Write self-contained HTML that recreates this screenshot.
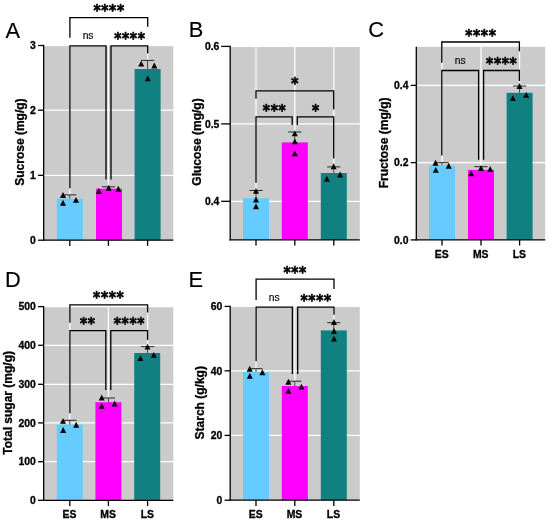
<!DOCTYPE html>
<html><head><meta charset="utf-8"><title>Figure</title>
<style>
html,body{margin:0;padding:0;background:#fff;}
body{width:550px;height:522px;overflow:hidden;}
svg{display:block;font-family:"Liberation Sans",sans-serif;}
</style></head><body>
<svg width="550" height="522" viewBox="0 0 550 522">
<rect width="550" height="522" fill="#fff"/>
<rect x="43.65" y="46.15" width="129.65" height="194.05" fill="#cbcbcb"/>
<line x1="43.65" y1="110.20" x2="173.30" y2="110.20" stroke="#fff" stroke-width="1.2"/>
<line x1="43.65" y1="175.30" x2="173.30" y2="175.30" stroke="#fff" stroke-width="1.2"/>
<line x1="69.80" y1="46.15" x2="69.80" y2="240.20" stroke="#fff" stroke-width="1.25"/>
<line x1="108.40" y1="46.15" x2="108.40" y2="240.20" stroke="#fff" stroke-width="1.25"/>
<line x1="147.60" y1="46.15" x2="147.60" y2="240.20" stroke="#fff" stroke-width="1.25"/>
<rect x="56.80" y="198.70" width="26.00" height="41.50" fill="#66ccff"/>
<rect x="96.00" y="188.70" width="26.00" height="51.50" fill="#ff00ff"/>
<rect x="134.60" y="69.00" width="26.00" height="171.20" fill="#108080"/>
<line x1="69.80" y1="194.90" x2="69.80" y2="198.70" stroke="#000" stroke-width="0.8"/>
<line x1="63.20" y1="194.90" x2="76.40" y2="194.90" stroke="#000" stroke-width="0.8"/>
<line x1="108.40" y1="186.80" x2="108.40" y2="188.70" stroke="#000" stroke-width="0.8"/>
<line x1="101.80" y1="186.80" x2="115.00" y2="186.80" stroke="#000" stroke-width="0.8"/>
<line x1="147.60" y1="60.40" x2="147.60" y2="69.00" stroke="#000" stroke-width="0.8"/>
<line x1="141.00" y1="60.40" x2="154.20" y2="60.40" stroke="#000" stroke-width="0.8"/>
<polyline points="69.90,37.70 69.90,17.60 147.70,17.60 147.70,26.80" fill="none" stroke="#000" stroke-width="1.3"/>
<polyline points="69.90,188.30 69.90,45.80 106.00,45.80 106.00,179.60" fill="none" stroke="#000" stroke-width="1.3"/>
<polyline points="111.00,179.60 111.00,45.80 147.70,45.80 147.70,53.50" fill="none" stroke="#000" stroke-width="1.3"/>
<polygon points="63.00,192.05 66.00,197.95 60.00,197.95"/>
<polygon points="63.00,199.85 66.00,205.75 60.00,205.75"/>
<polygon points="76.00,196.95 79.00,202.85 73.00,202.85"/>
<polygon points="98.90,188.05 101.90,193.95 95.90,193.95"/>
<polygon points="108.70,184.75 111.70,190.65 105.70,190.65"/>
<polygon points="118.30,185.75 121.30,191.65 115.30,191.65"/>
<polygon points="141.20,60.65 144.20,66.55 138.20,66.55"/>
<polygon points="154.30,62.55 157.30,68.45 151.30,68.45"/>
<polygon points="147.80,75.45 150.80,81.35 144.80,81.35"/>
<line x1="43.65" y1="44.85" x2="43.65" y2="240.85" stroke="#000" stroke-width="1.3"/>
<line x1="43.00" y1="240.20" x2="173.30" y2="240.20" stroke="#000" stroke-width="1.3"/>
<line x1="38.05" y1="45.50" x2="43.65" y2="45.50" stroke="#000" stroke-width="1.3"/>
<text x="35.85" y="49.25" font-size="10.4" text-anchor="end" font-weight="bold" stroke="#000" stroke-width="0.3">3</text>
<line x1="38.05" y1="110.20" x2="43.65" y2="110.20" stroke="#000" stroke-width="1.3"/>
<text x="35.85" y="113.95" font-size="10.4" text-anchor="end" font-weight="bold" stroke="#000" stroke-width="0.3">2</text>
<line x1="38.05" y1="175.30" x2="43.65" y2="175.30" stroke="#000" stroke-width="1.3"/>
<text x="35.85" y="179.05" font-size="10.4" text-anchor="end" font-weight="bold" stroke="#000" stroke-width="0.3">1</text>
<line x1="38.05" y1="240.20" x2="43.65" y2="240.20" stroke="#000" stroke-width="1.3"/>
<text x="35.85" y="243.95" font-size="10.4" text-anchor="end" font-weight="bold" stroke="#000" stroke-width="0.3">0</text>
<line x1="69.80" y1="240.20" x2="69.80" y2="245.90" stroke="#000" stroke-width="1.3"/>
<line x1="108.40" y1="240.20" x2="108.40" y2="245.90" stroke="#000" stroke-width="1.3"/>
<line x1="147.60" y1="240.20" x2="147.60" y2="245.90" stroke="#000" stroke-width="1.3"/>
<text x="24.00" y="185.80" font-size="12" text-anchor="start" font-weight="bold" stroke="#000" stroke-width="0.3" transform="rotate(-90 24.00 185.80)">Sucrose (mg/g)</text>
<text x="5.40" y="37.50" font-size="21.8" text-anchor="start" stroke="#000" stroke-width="0.15">A</text>
<text transform="translate(109.05 16.15) scale(0.9 1)" font-family="DejaVu Sans, sans-serif" font-weight="bold" font-size="15.2" text-anchor="middle" letter-spacing="0.77" stroke="#000" stroke-width="0.7">****</text>
<text x="88.10" y="39.10" font-size="10.3" text-anchor="middle" stroke="#000" stroke-width="0.15">ns</text>
<text transform="translate(129.85 44.05) scale(0.9 1)" font-family="DejaVu Sans, sans-serif" font-weight="bold" font-size="15.2" text-anchor="middle" letter-spacing="0.77" stroke="#000" stroke-width="0.7">****</text>
<rect x="230.20" y="47.05" width="129.60" height="192.75" fill="#cbcbcb"/>
<line x1="230.20" y1="123.90" x2="359.80" y2="123.90" stroke="#fff" stroke-width="1.2"/>
<line x1="230.20" y1="201.30" x2="359.80" y2="201.30" stroke="#fff" stroke-width="1.2"/>
<line x1="256.00" y1="47.05" x2="256.00" y2="239.80" stroke="#fff" stroke-width="1.25"/>
<line x1="294.80" y1="47.05" x2="294.80" y2="239.80" stroke="#fff" stroke-width="1.25"/>
<line x1="333.80" y1="47.05" x2="333.80" y2="239.80" stroke="#fff" stroke-width="1.25"/>
<rect x="243.00" y="198.10" width="26.00" height="41.70" fill="#66ccff"/>
<rect x="281.80" y="142.40" width="26.00" height="97.40" fill="#ff00ff"/>
<rect x="320.80" y="173.00" width="26.00" height="66.80" fill="#108080"/>
<line x1="256.00" y1="190.50" x2="256.00" y2="198.10" stroke="#000" stroke-width="0.8"/>
<line x1="249.40" y1="190.50" x2="262.60" y2="190.50" stroke="#000" stroke-width="0.8"/>
<line x1="294.80" y1="132.00" x2="294.80" y2="142.40" stroke="#000" stroke-width="0.8"/>
<line x1="288.20" y1="132.00" x2="301.40" y2="132.00" stroke="#000" stroke-width="0.8"/>
<line x1="333.80" y1="166.90" x2="333.80" y2="173.00" stroke="#000" stroke-width="0.8"/>
<line x1="327.20" y1="166.90" x2="340.40" y2="166.90" stroke="#000" stroke-width="0.8"/>
<polyline points="256.00,98.70 256.00,90.85 333.70,90.85 333.70,109.50" fill="none" stroke="#000" stroke-width="1.3"/>
<polyline points="256.00,182.80 256.00,116.80 292.20,116.80 292.20,125.00" fill="none" stroke="#000" stroke-width="1.3"/>
<polyline points="297.30,125.00 297.30,116.80 333.70,116.80 333.70,158.60" fill="none" stroke="#000" stroke-width="1.3"/>
<polygon points="256.00,187.95 259.00,193.85 253.00,193.85"/>
<polygon points="256.00,196.55 259.00,202.45 253.00,202.45"/>
<polygon points="256.00,203.25 259.00,209.15 253.00,209.15"/>
<polygon points="294.80,130.45 297.80,136.35 291.80,136.35"/>
<polygon points="294.80,138.45 297.80,144.35 291.80,144.35"/>
<polygon points="294.80,150.45 297.80,156.35 291.80,156.35"/>
<polygon points="333.60,163.35 336.60,169.25 330.60,169.25"/>
<polygon points="340.10,171.55 343.10,177.45 337.10,177.45"/>
<polygon points="326.90,175.75 329.90,181.65 323.90,181.65"/>
<line x1="230.20" y1="45.75" x2="230.20" y2="240.45" stroke="#000" stroke-width="1.3"/>
<line x1="229.55" y1="239.80" x2="359.80" y2="239.80" stroke="#000" stroke-width="1.3"/>
<line x1="221.20" y1="46.40" x2="230.20" y2="46.40" stroke="#000" stroke-width="1.3"/>
<text x="219.40" y="50.15" font-size="10.4" text-anchor="end" font-weight="bold" stroke="#000" stroke-width="0.3">0.6</text>
<line x1="221.20" y1="123.90" x2="230.20" y2="123.90" stroke="#000" stroke-width="1.3"/>
<text x="219.40" y="127.65" font-size="10.4" text-anchor="end" font-weight="bold" stroke="#000" stroke-width="0.3">0.5</text>
<line x1="221.20" y1="201.30" x2="230.20" y2="201.30" stroke="#000" stroke-width="1.3"/>
<text x="219.40" y="205.05" font-size="10.4" text-anchor="end" font-weight="bold" stroke="#000" stroke-width="0.3">0.4</text>
<line x1="256.00" y1="239.80" x2="256.00" y2="245.50" stroke="#000" stroke-width="1.3"/>
<line x1="294.80" y1="239.80" x2="294.80" y2="245.50" stroke="#000" stroke-width="1.3"/>
<line x1="333.80" y1="239.80" x2="333.80" y2="245.50" stroke="#000" stroke-width="1.3"/>
<text x="201.00" y="185.70" font-size="12" text-anchor="start" font-weight="bold" stroke="#000" stroke-width="0.3" transform="rotate(-90 201.00 185.70)">Glucose (mg/g)</text>
<text x="188.70" y="37.20" font-size="21.8" text-anchor="start" stroke="#000" stroke-width="0.15">B</text>
<text transform="translate(295.15 89.45) scale(0.9 1)" font-family="DejaVu Sans, sans-serif" font-weight="bold" font-size="15.2" text-anchor="middle" letter-spacing="0.77" stroke="#000" stroke-width="0.7">*</text>
<text transform="translate(274.55 115.85) scale(0.9 1)" font-family="DejaVu Sans, sans-serif" font-weight="bold" font-size="15.2" text-anchor="middle" letter-spacing="0.77" stroke="#000" stroke-width="0.7">***</text>
<text transform="translate(315.85 115.95) scale(0.9 1)" font-family="DejaVu Sans, sans-serif" font-weight="bold" font-size="15.2" text-anchor="middle" letter-spacing="0.77" stroke="#000" stroke-width="0.7">*</text>
<rect x="416.30" y="46.80" width="128.90" height="193.10" fill="#cbcbcb"/>
<line x1="416.30" y1="85.40" x2="545.20" y2="85.40" stroke="#fff" stroke-width="1.2"/>
<line x1="416.30" y1="162.60" x2="545.20" y2="162.60" stroke="#fff" stroke-width="1.2"/>
<line x1="442.00" y1="46.80" x2="442.00" y2="239.90" stroke="#fff" stroke-width="1.25"/>
<line x1="481.00" y1="46.80" x2="481.00" y2="239.90" stroke="#fff" stroke-width="1.25"/>
<line x1="519.60" y1="46.80" x2="519.60" y2="239.90" stroke="#fff" stroke-width="1.25"/>
<rect x="429.00" y="165.50" width="26.00" height="74.40" fill="#66ccff"/>
<rect x="468.00" y="169.90" width="26.00" height="70.00" fill="#ff00ff"/>
<rect x="506.60" y="92.80" width="26.00" height="147.10" fill="#108080"/>
<line x1="442.00" y1="162.60" x2="442.00" y2="165.50" stroke="#000" stroke-width="0.8"/>
<line x1="435.40" y1="162.60" x2="448.60" y2="162.60" stroke="#000" stroke-width="0.8"/>
<line x1="481.00" y1="166.70" x2="481.00" y2="169.90" stroke="#000" stroke-width="0.8"/>
<line x1="474.40" y1="166.70" x2="487.60" y2="166.70" stroke="#000" stroke-width="0.8"/>
<line x1="519.60" y1="86.00" x2="519.60" y2="92.80" stroke="#000" stroke-width="0.8"/>
<line x1="513.00" y1="86.00" x2="526.20" y2="86.00" stroke="#000" stroke-width="0.8"/>
<polyline points="441.80,62.70 441.80,42.00 519.40,42.00 519.40,51.20" fill="none" stroke="#000" stroke-width="1.3"/>
<polyline points="441.80,155.60 441.80,70.50 478.60,70.50 478.60,159.80" fill="none" stroke="#000" stroke-width="1.3"/>
<polyline points="483.60,159.80 483.60,70.50 519.40,70.50 519.40,80.90" fill="none" stroke="#000" stroke-width="1.3"/>
<polygon points="435.50,159.85 438.50,165.75 432.50,165.75"/>
<polygon points="448.70,162.75 451.70,168.65 445.70,168.65"/>
<polygon points="435.80,166.95 438.80,172.85 432.80,172.85"/>
<polygon points="481.00,165.05 484.00,170.95 478.00,170.95"/>
<polygon points="490.20,166.05 493.20,171.95 487.20,171.95"/>
<polygon points="471.10,170.25 474.10,176.15 468.10,176.15"/>
<polygon points="519.50,83.05 522.50,88.95 516.50,88.95"/>
<polygon points="526.20,91.95 529.20,97.85 523.20,97.85"/>
<polygon points="512.80,95.15 515.80,101.05 509.80,101.05"/>
<line x1="416.30" y1="46.80" x2="416.30" y2="240.55" stroke="#000" stroke-width="1.3"/>
<line x1="415.65" y1="239.90" x2="545.20" y2="239.90" stroke="#000" stroke-width="1.3"/>
<line x1="410.70" y1="85.40" x2="416.30" y2="85.40" stroke="#000" stroke-width="1.3"/>
<text x="408.50" y="89.15" font-size="10.4" text-anchor="end" font-weight="bold" stroke="#000" stroke-width="0.3">0.4</text>
<line x1="410.70" y1="162.60" x2="416.30" y2="162.60" stroke="#000" stroke-width="1.3"/>
<text x="408.50" y="166.35" font-size="10.4" text-anchor="end" font-weight="bold" stroke="#000" stroke-width="0.3">0.2</text>
<line x1="410.70" y1="239.90" x2="416.30" y2="239.90" stroke="#000" stroke-width="1.3"/>
<text x="408.50" y="243.65" font-size="10.4" text-anchor="end" font-weight="bold" stroke="#000" stroke-width="0.3">0.0</text>
<line x1="442.00" y1="239.90" x2="442.00" y2="245.60" stroke="#000" stroke-width="1.3"/>
<text x="441.70" y="257.50" font-size="10.4" text-anchor="middle" font-weight="bold" stroke="#000" stroke-width="0.3">ES</text>
<line x1="481.00" y1="239.90" x2="481.00" y2="245.60" stroke="#000" stroke-width="1.3"/>
<text x="480.70" y="257.50" font-size="10.4" text-anchor="middle" font-weight="bold" stroke="#000" stroke-width="0.3">MS</text>
<line x1="519.60" y1="239.90" x2="519.60" y2="245.60" stroke="#000" stroke-width="1.3"/>
<text x="519.30" y="257.50" font-size="10.4" text-anchor="middle" font-weight="bold" stroke="#000" stroke-width="0.3">LS</text>
<text x="388.10" y="188.20" font-size="12" text-anchor="start" font-weight="bold" stroke="#000" stroke-width="0.3" transform="rotate(-90 388.10 188.20)">Fructose (mg/g)</text>
<text x="368.20" y="37.40" font-size="21.8" text-anchor="start" stroke="#000" stroke-width="0.15">C</text>
<text transform="translate(480.85 40.85) scale(0.9 1)" font-family="DejaVu Sans, sans-serif" font-weight="bold" font-size="15.2" text-anchor="middle" letter-spacing="0.77" stroke="#000" stroke-width="0.7">****</text>
<text x="460.30" y="63.80" font-size="10.3" text-anchor="middle" stroke="#000" stroke-width="0.15">ns</text>
<text transform="translate(501.75 69.15) scale(0.9 1)" font-family="DejaVu Sans, sans-serif" font-weight="bold" font-size="15.2" text-anchor="middle" letter-spacing="0.77" stroke="#000" stroke-width="0.7">****</text>
<rect x="43.65" y="307.25" width="129.65" height="193.05" fill="#cbcbcb"/>
<line x1="43.65" y1="345.30" x2="173.30" y2="345.30" stroke="#fff" stroke-width="1.2"/>
<line x1="43.65" y1="384.30" x2="173.30" y2="384.30" stroke="#fff" stroke-width="1.2"/>
<line x1="43.65" y1="422.90" x2="173.30" y2="422.90" stroke="#fff" stroke-width="1.2"/>
<line x1="43.65" y1="461.70" x2="173.30" y2="461.70" stroke="#fff" stroke-width="1.2"/>
<line x1="69.80" y1="307.25" x2="69.80" y2="500.30" stroke="#fff" stroke-width="1.25"/>
<line x1="108.40" y1="307.25" x2="108.40" y2="500.30" stroke="#fff" stroke-width="1.25"/>
<line x1="147.60" y1="307.25" x2="147.60" y2="500.30" stroke="#fff" stroke-width="1.25"/>
<rect x="56.80" y="424.60" width="26.00" height="75.70" fill="#66ccff"/>
<rect x="95.40" y="402.20" width="26.00" height="98.10" fill="#ff00ff"/>
<rect x="134.20" y="353.00" width="26.00" height="147.30" fill="#108080"/>
<line x1="69.80" y1="420.30" x2="69.80" y2="424.60" stroke="#000" stroke-width="0.8"/>
<line x1="63.20" y1="420.30" x2="76.40" y2="420.30" stroke="#000" stroke-width="0.8"/>
<line x1="108.40" y1="398.00" x2="108.40" y2="402.20" stroke="#000" stroke-width="0.8"/>
<line x1="101.80" y1="398.00" x2="115.00" y2="398.00" stroke="#000" stroke-width="0.8"/>
<line x1="147.60" y1="346.60" x2="147.60" y2="353.00" stroke="#000" stroke-width="0.8"/>
<line x1="141.00" y1="346.60" x2="154.20" y2="346.60" stroke="#000" stroke-width="0.8"/>
<polyline points="69.90,322.70 69.90,304.90 147.60,304.90 147.60,312.50" fill="none" stroke="#000" stroke-width="1.3"/>
<polyline points="69.90,413.30 69.90,330.60 105.80,330.60 105.80,389.90" fill="none" stroke="#000" stroke-width="1.3"/>
<polyline points="110.80,389.90 110.80,330.60 147.60,330.60 147.60,339.90" fill="none" stroke="#000" stroke-width="1.3"/>
<polygon points="63.00,417.95 66.00,423.85 60.00,423.85"/>
<polygon points="76.20,421.85 79.20,427.75 73.20,427.75"/>
<polygon points="63.20,427.05 66.20,432.95 60.20,432.95"/>
<polygon points="101.70,394.55 104.70,400.45 98.70,400.45"/>
<polygon points="114.70,400.55 117.70,406.45 111.70,406.45"/>
<polygon points="101.80,402.95 104.80,408.85 98.80,408.85"/>
<polygon points="147.50,343.65 150.50,349.55 144.50,349.55"/>
<polygon points="153.80,351.95 156.80,357.85 150.80,357.85"/>
<polygon points="140.40,355.15 143.40,361.05 137.40,361.05"/>
<line x1="43.65" y1="305.95" x2="43.65" y2="500.95" stroke="#000" stroke-width="1.3"/>
<line x1="43.00" y1="500.30" x2="173.30" y2="500.30" stroke="#000" stroke-width="1.3"/>
<line x1="38.05" y1="306.60" x2="43.65" y2="306.60" stroke="#000" stroke-width="1.3"/>
<text x="35.85" y="310.35" font-size="10.4" text-anchor="end" font-weight="bold" stroke="#000" stroke-width="0.3">500</text>
<line x1="38.05" y1="345.30" x2="43.65" y2="345.30" stroke="#000" stroke-width="1.3"/>
<text x="35.85" y="349.05" font-size="10.4" text-anchor="end" font-weight="bold" stroke="#000" stroke-width="0.3">400</text>
<line x1="38.05" y1="384.30" x2="43.65" y2="384.30" stroke="#000" stroke-width="1.3"/>
<text x="35.85" y="388.05" font-size="10.4" text-anchor="end" font-weight="bold" stroke="#000" stroke-width="0.3">300</text>
<line x1="38.05" y1="422.90" x2="43.65" y2="422.90" stroke="#000" stroke-width="1.3"/>
<text x="35.85" y="426.65" font-size="10.4" text-anchor="end" font-weight="bold" stroke="#000" stroke-width="0.3">200</text>
<line x1="38.05" y1="461.70" x2="43.65" y2="461.70" stroke="#000" stroke-width="1.3"/>
<text x="35.85" y="465.45" font-size="10.4" text-anchor="end" font-weight="bold" stroke="#000" stroke-width="0.3">100</text>
<line x1="38.05" y1="500.30" x2="43.65" y2="500.30" stroke="#000" stroke-width="1.3"/>
<text x="35.85" y="504.05" font-size="10.4" text-anchor="end" font-weight="bold" stroke="#000" stroke-width="0.3">0</text>
<line x1="69.80" y1="500.30" x2="69.80" y2="506.00" stroke="#000" stroke-width="1.3"/>
<text x="69.50" y="517.90" font-size="10.4" text-anchor="middle" font-weight="bold" stroke="#000" stroke-width="0.3">ES</text>
<line x1="108.40" y1="500.30" x2="108.40" y2="506.00" stroke="#000" stroke-width="1.3"/>
<text x="108.10" y="517.90" font-size="10.4" text-anchor="middle" font-weight="bold" stroke="#000" stroke-width="0.3">MS</text>
<line x1="147.60" y1="500.30" x2="147.60" y2="506.00" stroke="#000" stroke-width="1.3"/>
<text x="147.30" y="517.90" font-size="10.4" text-anchor="middle" font-weight="bold" stroke="#000" stroke-width="0.3">LS</text>
<text x="12.40" y="454.80" font-size="12" text-anchor="start" font-weight="bold" stroke="#000" stroke-width="0.3" transform="rotate(-90 12.40 454.80)">Total sugar (mg/g)</text>
<text x="4.90" y="287.10" font-size="21.8" text-anchor="start" stroke="#000" stroke-width="0.15">D</text>
<text transform="translate(108.75 303.35) scale(0.9 1)" font-family="DejaVu Sans, sans-serif" font-weight="bold" font-size="15.2" text-anchor="middle" letter-spacing="0.77" stroke="#000" stroke-width="0.7">****</text>
<text transform="translate(87.75 329.25) scale(0.9 1)" font-family="DejaVu Sans, sans-serif" font-weight="bold" font-size="15.2" text-anchor="middle" letter-spacing="0.77" stroke="#000" stroke-width="0.7">**</text>
<text transform="translate(129.45 329.45) scale(0.9 1)" font-family="DejaVu Sans, sans-serif" font-weight="bold" font-size="15.2" text-anchor="middle" letter-spacing="0.77" stroke="#000" stroke-width="0.7">****</text>
<rect x="230.20" y="307.05" width="129.60" height="193.15" fill="#cbcbcb"/>
<line x1="230.20" y1="370.80" x2="359.80" y2="370.80" stroke="#fff" stroke-width="1.2"/>
<line x1="230.20" y1="435.40" x2="359.80" y2="435.40" stroke="#fff" stroke-width="1.2"/>
<line x1="256.00" y1="307.05" x2="256.00" y2="500.20" stroke="#fff" stroke-width="1.25"/>
<line x1="294.80" y1="307.05" x2="294.80" y2="500.20" stroke="#fff" stroke-width="1.25"/>
<line x1="333.80" y1="307.05" x2="333.80" y2="500.20" stroke="#fff" stroke-width="1.25"/>
<rect x="243.00" y="372.00" width="26.00" height="128.20" fill="#66ccff"/>
<rect x="281.80" y="386.00" width="26.00" height="114.20" fill="#ff00ff"/>
<rect x="320.80" y="330.40" width="26.00" height="169.80" fill="#108080"/>
<line x1="256.00" y1="368.70" x2="256.00" y2="372.00" stroke="#000" stroke-width="0.8"/>
<line x1="249.40" y1="368.70" x2="262.60" y2="368.70" stroke="#000" stroke-width="0.8"/>
<line x1="294.80" y1="381.20" x2="294.80" y2="386.00" stroke="#000" stroke-width="0.8"/>
<line x1="288.20" y1="381.20" x2="301.40" y2="381.20" stroke="#000" stroke-width="0.8"/>
<line x1="333.80" y1="322.70" x2="333.80" y2="330.40" stroke="#000" stroke-width="0.8"/>
<line x1="327.20" y1="322.70" x2="340.40" y2="322.70" stroke="#000" stroke-width="0.8"/>
<polyline points="256.10,300.00 256.10,279.10 334.00,279.10 334.00,289.00" fill="none" stroke="#000" stroke-width="1.3"/>
<polyline points="256.10,361.30 256.10,307.10 292.40,307.10 292.40,374.10" fill="none" stroke="#000" stroke-width="1.3"/>
<polyline points="297.70,374.10 297.70,307.10 334.00,307.10 334.00,314.70" fill="none" stroke="#000" stroke-width="1.3"/>
<polygon points="249.70,365.85 252.70,371.75 246.70,371.75"/>
<polygon points="262.40,369.25 265.40,375.15 259.40,375.15"/>
<polygon points="249.80,372.95 252.80,378.85 246.80,378.85"/>
<polygon points="288.40,378.85 291.40,384.75 285.40,384.75"/>
<polygon points="301.40,383.65 304.40,389.55 298.40,389.55"/>
<polygon points="288.40,387.85 291.40,393.75 285.40,393.75"/>
<polygon points="334.00,319.05 337.00,324.95 331.00,324.95"/>
<polygon points="334.00,328.05 337.00,333.95 331.00,333.95"/>
<polygon points="334.00,335.65 337.00,341.55 331.00,341.55"/>
<line x1="230.20" y1="305.75" x2="230.20" y2="500.85" stroke="#000" stroke-width="1.3"/>
<line x1="229.55" y1="500.20" x2="359.80" y2="500.20" stroke="#000" stroke-width="1.3"/>
<line x1="224.60" y1="306.40" x2="230.20" y2="306.40" stroke="#000" stroke-width="1.3"/>
<text x="222.40" y="310.15" font-size="10.4" text-anchor="end" font-weight="bold" stroke="#000" stroke-width="0.3">60</text>
<line x1="224.60" y1="370.80" x2="230.20" y2="370.80" stroke="#000" stroke-width="1.3"/>
<text x="222.40" y="374.55" font-size="10.4" text-anchor="end" font-weight="bold" stroke="#000" stroke-width="0.3">40</text>
<line x1="224.60" y1="435.40" x2="230.20" y2="435.40" stroke="#000" stroke-width="1.3"/>
<text x="222.40" y="439.15" font-size="10.4" text-anchor="end" font-weight="bold" stroke="#000" stroke-width="0.3">20</text>
<line x1="224.60" y1="500.20" x2="230.20" y2="500.20" stroke="#000" stroke-width="1.3"/>
<text x="222.40" y="503.95" font-size="10.4" text-anchor="end" font-weight="bold" stroke="#000" stroke-width="0.3">0</text>
<line x1="256.00" y1="500.20" x2="256.00" y2="505.90" stroke="#000" stroke-width="1.3"/>
<text x="255.70" y="517.80" font-size="10.4" text-anchor="middle" font-weight="bold" stroke="#000" stroke-width="0.3">ES</text>
<line x1="294.80" y1="500.20" x2="294.80" y2="505.90" stroke="#000" stroke-width="1.3"/>
<text x="294.50" y="517.80" font-size="10.4" text-anchor="middle" font-weight="bold" stroke="#000" stroke-width="0.3">MS</text>
<line x1="333.80" y1="500.20" x2="333.80" y2="505.90" stroke="#000" stroke-width="1.3"/>
<text x="333.50" y="517.80" font-size="10.4" text-anchor="middle" font-weight="bold" stroke="#000" stroke-width="0.3">LS</text>
<text x="203.80" y="439.40" font-size="12" text-anchor="start" font-weight="bold" stroke="#000" stroke-width="0.3" transform="rotate(-90 203.80 439.40)">Starch (g/kg)</text>
<text x="188.40" y="287.10" font-size="21.8" text-anchor="start" stroke="#000" stroke-width="0.15">E</text>
<text transform="translate(295.15 278.05) scale(0.9 1)" font-family="DejaVu Sans, sans-serif" font-weight="bold" font-size="15.2" text-anchor="middle" letter-spacing="0.77" stroke="#000" stroke-width="0.7">***</text>
<text x="274.30" y="301.10" font-size="10.3" text-anchor="middle" stroke="#000" stroke-width="0.15">ns</text>
<text transform="translate(316.15 305.85) scale(0.9 1)" font-family="DejaVu Sans, sans-serif" font-weight="bold" font-size="15.2" text-anchor="middle" letter-spacing="0.77" stroke="#000" stroke-width="0.7">****</text>
</svg>
</body></html>
